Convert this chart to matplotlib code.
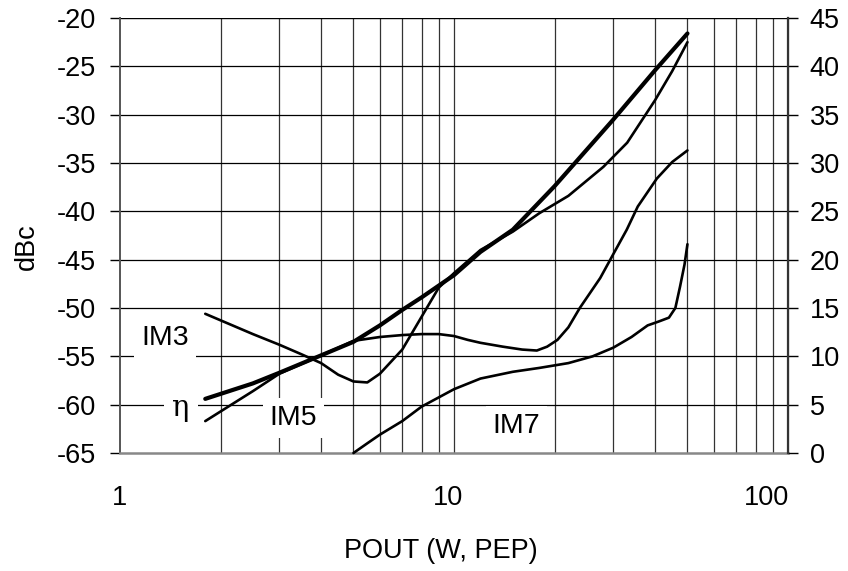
import matplotlib
matplotlib.use("Agg")
import matplotlib.pyplot as plt
from matplotlib.ticker import FixedLocator, NullFormatter, NullLocator
import matplotlib.transforms as mtransforms

plt.rcParams['font.family'] = ['Liberation Sans', 'DejaVu Sans']

# ---- data ----
pout_eta = [1.8, 2.5, 3, 4, 5, 6, 7, 8, 10, 12, 15, 20, 30, 40, 50]
eta_pct = [5.6, 7.2, 8.3, 10.1, 11.5, 13.2, 14.8, 16.1, 18.4, 20.8, 23.1, 27.6, 34.5, 39.6, 43.4]

pout_im3 = [1.8, 2.5, 3, 3.5, 4, 4.5, 5, 5.5, 6, 7, 8, 9, 10, 12, 15, 18, 22, 28, 33, 40, 45, 50]
im3_dbc = [-50.6, -52.7, -53.8, -54.8, -55.7, -56.9, -57.6, -57.7, -56.8, -54.3, -50.9, -47.9,
           -46.4, -44.0, -42.1, -40.2, -38.4, -35.4, -32.9, -28.5, -25.5, -22.5]

pout_im5 = [1.8, 2.5, 3, 4, 5, 6, 7, 8, 9, 10, 11, 12, 14, 16, 17.7, 19, 20.4, 22, 23.8, 27.4,
            29.8, 32.9, 35.5, 40.5, 45, 50]
im5_dbc = [-61.7, -58.6, -56.8, -54.9, -53.4, -53.0, -52.8, -52.7, -52.7, -52.9, -53.3, -53.6,
           -54.0, -54.3, -54.4, -54.0, -53.3, -52.0, -50.0, -46.9, -44.6, -41.9, -39.5, -36.6,
           -34.9, -33.7]

pout_im7 = [5, 5.5, 6, 7, 8, 10, 12, 15, 18, 22, 26, 30, 34, 38, 41, 44, 46, 47.5, 49, 50]
im7_dbc = [-65.0, -64.0, -63.1, -61.7, -60.2, -58.4, -57.3, -56.6, -56.2, -55.7, -55.0, -54.1,
           -53.0, -51.8, -51.4, -51.0, -50.0, -47.8, -45.5, -43.4]

left_ticks = [-20, -25, -30, -35, -40, -45, -50, -55, -60, -65]
right_ticks = [45, 40, 35, 30, 25, 20, 15, 10, 5, 0]
x_ticks = [1, 10, 100]
x_tick_labels = ['1', '10', '100']

# ---- figure ----
W, H = 848, 571
fig = plt.figure(figsize=(W / 100, H / 100), dpi=100)
ax = fig.add_axes([120 / W, 1 - 453 / H, 668 / W, 435 / H])
ax2 = ax.twinx()

ax.set_xscale('log')
ax.set_xlim(1, 100)
ax.set_ylim(-65, -20)
ax2.set_ylim(0, 45)

# grid
minor_x = [m * d for d in (1, 10) for m in range(2, 10)]
for xv in minor_x + [10]:
    ax.axvline(xv, color='#333333', lw=0.9, zorder=1)
for yv in left_ticks[1:-1]:
    ax.axhline(yv, color='black', lw=0.9, zorder=1)
ax.axhline(-20, color='black', lw=1.0, zorder=1)

for s in ('top',):
    ax.spines[s].set_visible(False)
    ax2.spines[s].set_visible(False)
ax.spines['left'].set_color('#555555')
ax.spines['left'].set_linewidth(1.4)
ax.spines['bottom'].set_color('#888888')
ax.spines['bottom'].set_linewidth(1.8)
ax2.spines['right'].set_color('#333333')
ax2.spines['right'].set_linewidth(1.6)
ax2.spines['left'].set_visible(False)
ax2.spines['bottom'].set_visible(False)

ax.yaxis.set_major_locator(FixedLocator(left_ticks))
ax.set_yticklabels([str(t) for t in left_ticks])
ax2.yaxis.set_major_locator(FixedLocator(right_ticks))
ax2.set_yticklabels([str(t) for t in right_ticks])
ax.tick_params(axis='y', direction='out', length=7.5, width=1.0, color='black',
               labelsize=19.5, pad=10)
ax2.tick_params(axis='y', direction='out', length=7.5, width=1.0, color='black',
                labelsize=19.5, pad=8)

ax.xaxis.set_major_locator(FixedLocator(x_ticks))
ax.xaxis.set_minor_locator(NullLocator())
ax.xaxis.set_minor_formatter(NullFormatter())
ax.set_xticklabels(x_tick_labels)
ax.tick_params(axis='x', length=0, labelsize=19.5, pad=23)
shifts = [0, -6, -22]
for lab, sh in zip(ax.get_xticklabels(), shifts):
    lab.set_transform(lab.get_transform() + mtransforms.ScaledTranslation(sh / 100, 0, fig.dpi_scale_trans))

ax.set_xlabel('POUT (W, PEP)', fontsize=19.5)
ax.xaxis.set_label_coords((441 - 120) / 668, -(551 - 453) / 435)
ax.xaxis.label.set_va('center')
ax.set_ylabel('dBc', fontsize=19.5)
ax.yaxis.set_label_coords((27 - 120) / 668, 1 - (247 - 18) / 435)
ax.yaxis.label.set_va('center')

# curves
thin = dict(color='black', lw=1.9, solid_capstyle='round', solid_joinstyle='round', zorder=4)
ax.plot(pout_im3, im3_dbc, **thin)
ax.plot(pout_im5, im5_dbc, **thin)
ax.plot(pout_im7, im7_dbc, clip_on=False, **thin)
ax2.plot(pout_eta, eta_pct, color='black', lw=3.0, solid_capstyle='round',
         solid_joinstyle='round', zorder=5)

# series labels with white backgrounds
box = dict(facecolor='white', edgecolor='none', pad=5)
ax.text(1.364, -53.1, 'IM3', fontsize=20.5, ha='center', va='center', bbox=box, zorder=3)
ax.text(3.30, -61.4, 'IM5', fontsize=20.5, ha='center', va='center', bbox=box, zorder=3)
ax.text(15.4, -62.2, 'IM7', fontsize=20.5, ha='center', va='center', bbox=box, zorder=3)
ax.text(1.523, -60.3, 'η', fontsize=21, family=['DejaVu Serif'], ha='center', va='center',
        bbox=dict(facecolor='white', edgecolor='none', pad=6), zorder=3)

fig.savefig('out.png', dpi=100)
